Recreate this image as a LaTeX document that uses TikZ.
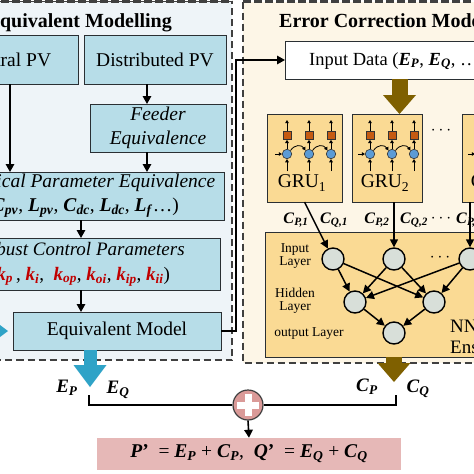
\documentclass[tikz,border=0pt]{standalone}
\usepackage{fontspec}
\setmainfont{Liberation Serif}
\usetikzlibrary{arrows.meta}
\definecolor{kred}{HTML}{C00000}
\definecolor{lblue}{HTML}{B7DDE8}
\definecolor{lpanel}{HTML}{EEF4F8}
\definecolor{rpanel}{HTML}{FDF6E7}
\definecolor{gold}{HTML}{FADA94}
\definecolor{nngray}{HTML}{D8DFD9}
\definecolor{cyanc}{HTML}{2FA3C7}
\definecolor{brownc}{HTML}{7F6000}
\definecolor{plusc}{HTML}{DA9A98}
\definecolor{formc}{HTML}{E6B8B7}
\definecolor{gblue}{HTML}{5B9BD5}
\definecolor{gorange}{HTML}{C55A11}
\definecolor{boxline}{HTML}{2A2F33}
\newcommand{\fsz}[2]{\fontsize{#1pt}{#2pt}\selectfont}
\newcommand{\myBI}[1]{\textbf{\textit{#1}}}
\newcommand{\mySub}[2]{\myBI{#1}\textsubscript{\myBI{#2}}}
\newcommand{\myRed}[2]{\textcolor{kred}{\myBI{#1}\textsubscript{\myBI{#2}}}}
\newcommand{\grucell}[2]{%
  \foreach \i/\dx in {1/-22,2/0,3/22}{%
    \node[grucirc] (#2c\i) at ({#1+\dx},154) {};
    \node[grusq] (#2s\i) at ({#1+\dx},135.5) {};
    \draw[sarr] (#2c\i.north) -- (#2s\i.south);
    \draw[sarr] (#2s\i.north) -- ({#1+\dx},120);
    \draw[sarr] ({#1+\dx},171) -- (#2c\i.south);
  }
  \draw[sarr] ({#1-34},154) -- (#2c1.west);
  \draw[sarr] (#2c1.north east) .. controls +(4,-6) and +(-4,-6) .. (#2c2.north west);
  \draw[sarr] (#2c2.north east) .. controls +(4,-6) and +(-4,-6) .. (#2c3.north west);
}
\begin{document}
\begin{tikzpicture}[x=1pt,y=-1pt,
  panel/.style={draw=black!75, line width=1.2pt, dash pattern=on 7pt off 4pt},
  lbox/.style={draw=boxline, fill=lblue, line width=0.9pt, inner sep=0pt, outer sep=0pt, font=\fsz{19.5}{24}, align=center},
  wbox/.style={lbox, fill=white},
  gbox/.style={lbox, fill=gold},
  arr/.style={line width=1.6pt, -{Triangle[length=8pt,width=8.5pt]}},
  sarr/.style={line width=0.8pt, -{Triangle[length=3.2pt,width=3.6pt]}},
  nnarr/.style={line width=1.5pt, -{Triangle[length=8pt,width=8pt]}},
  grucirc/.style={circle, draw=black!80, fill=gblue, line width=0.6pt, minimum size=9.5pt, inner sep=0pt},
  grusq/.style={rectangle, draw=black!80, fill=gorange, line width=0.6pt, minimum size=8pt, inner sep=0pt},
  nncirc/.style={circle, draw=black, fill=nngray, line width=1.4pt, minimum size=22pt, inner sep=0pt},
  cyanarr/.style={draw=cyanc, line width=13pt, -{Triangle[length=22pt,width=33pt,line width=0pt]}},
  brownarr/.style={draw=brownc, line width=16pt, -{Triangle[length=19pt,width=33pt,line width=0pt]}},
  clab/.style={font=\fsz{16}{19}, inner sep=0pt},
  elab/.style={font=\fsz{19}{22}, inner sep=0pt},
  layer/.style={font=\fsz{13.5}{13.5}, align=center, inner sep=0pt},
  title/.style={font=\fsz{20}{24}\bfseries, inner sep=0pt}
]
\useasboundingbox (0,0) rectangle (474,474);
\clip (0,0) rectangle (474,474);
\fill[white] (0,0) rectangle (474,474);
% panels
\draw[panel, fill=lpanel] (-10,1.5) rectangle (232,360);
\draw[panel, fill=rpanel] (243,1.5) rectangle (490,363);
\draw[panel, line width=3pt, dash pattern=on 8pt off 3pt] (-10,1.5) -- (232,1.5);
\draw[panel, line width=3pt, dash pattern=on 8pt off 3pt] (243,1.5) -- (490,1.5);
\node[title, anchor=base east] (ltitle) at (172,27) {Equivalent Modelling};
\node[title, anchor=base west] (rtitle) at (279,27) {Error Correction Model};
% left column
\node[lbox, minimum width=141pt, minimum height=49pt] (central) at (7.5,59.5) {Central PV};
\node[lbox, minimum width=142pt, minimum height=49pt] (distr) at (155,59.5) {Distributed PV};
\node[lbox, minimum width=136pt, minimum height=48pt, font=\fsz{19.5}{24}\itshape] (feeder) at (158,128) {Feeder\\Equivalence};
\node[lbox, minimum width=284pt, minimum height=48pt] (elec) at (82,196) {\textit{Electrical Parameter Equivalence}\\(\mySub{C}{pv}, \mySub{L}{pv}, \mySub{C}{dc}, \mySub{L}{dc}, \mySub{L}{f}\ldots)};
\node[lbox, minimum width=280pt, minimum height=52pt, font=\fsz{19}{25}] (robust) at (80,264) {\textit{Robust Control Parameters}\\(\myRed{k}{p}\,, \myRed{k}{i},\ \ \myRed{k}{op}, \myRed{k}{oi}, \myRed{k}{ip}, \myRed{k}{ii})};
\node[lbox, minimum width=208pt, minimum height=38pt] (eqm) at (117,331) {Equivalent Model};
\coordinate (ax) at (147,0);
\coordinate (bx) at (10,0);
\coordinate (cx) at (81,0);
\draw[arr] (ax |- distr.south) -- (ax |- feeder.north);
\draw[arr] (ax |- feeder.south) -- (ax |- elec.north);
\draw[arr] (bx |- central.south) -- (bx |- elec.north);
\draw[arr] (cx |- elec.south) -- (cx |- robust.north);
\draw[arr] (cx |- robust.south) -- (cx |- eqm.north);
% right side
\node[wbox, minimum width=215pt, minimum height=38pt] (input) at (392.5,60) {};
\node[anchor=west, font=\fsz{18.5}{22}, inner sep=0pt] (intext) at (309,61) {Input Data (\mySub{E}{P}, \mySub{E}{Q}, \ldots)};
\coordinate (turn) at (236,0);
\draw[arr] (eqm.east) -- (eqm.east -| turn) |- (input.west);
\node[gbox, minimum width=75pt, minimum height=88pt] (gru1) at (304.5,158) {};
\node[gbox, minimum width=70pt, minimum height=88pt] (gru2) at (387,158) {};
\node[gbox, minimum width=70pt, minimum height=88pt] (gru3) at (497,158) {};
\coordinate (bax) at (399.5,0);
\draw[brownarr] (input.south -| bax) -- (bax |- gru2.north);
\grucell{309}{ga}
\grucell{392}{gb}
\grucell{502}{gc}
\node[font=\fsz{19.5}{22}, inner sep=0pt] (gl1) at (302,183) {GRU\textsubscript{1}};
\node[font=\fsz{19.5}{22}, inner sep=0pt] (gl2) at (385,183) {GRU\textsubscript{2}};
\node[font=\fsz{19.5}{22}, inner sep=0pt] (gl3) at (495,183) {GRU\textsubscript{\textit{n}}};
\node[font=\fsz{18}{20}\bfseries, inner sep=0pt] (gdots) at (441,131) {$\cdots$};
% NN box
\node[gbox, minimum width=225pt, minimum height=125pt] (nn) at (377.5,294.5) {};
\node[nncirc] (in1) at (333,259) {};
\node[nncirc] (in2) at (394,259) {};
\node[nncirc] (in3) at (470,259) {};
\node[nncirc] (h1) at (355,302) {};
\node[nncirc] (h2) at (434,302) {};
\node[nncirc] (out) at (394,333) {};
\node[font=\fsz{18}{20}\bfseries, inner sep=0pt] (ndots) at (440,258) {$\cdots$};
\foreach \a in {in1,in2,in3}{\foreach \b in {h1,h2}{\draw[nnarr] (\a) -- (\b);}}
\draw[nnarr] (h1) -- (out);
\draw[nnarr] (h2) -- (out);
\draw[nnarr] (gru1.south) -- (in1);
\draw[nnarr] (in2 |- gru2.south) -- (in2);
\draw[nnarr] (in3 |- gru3.south) -- (in3);
\node[clab] (cp1) at (296,220) {\mySub{C}{P,1}};
\node[clab] (cq1) at (334,220) {\mySub{C}{Q,1}};
\node[clab] (cp2) at (377,220) {\mySub{C}{P,2}};
\node[clab] (cq2) at (414,220) {\mySub{C}{Q,2}};
\node[font=\fsz{16}{18}\bfseries, inner sep=0pt] (cdots) at (441,219) {$\cdots$};
\node[clab, anchor=west] (cpn) at (456,220) {\mySub{C}{P,n}};
\node[layer] (linput) at (295,256) {Input\\Layer};
\node[layer] (lhidden) at (295,301) {Hidden\\Layer};
\node[layer] (loutput) at (309,334) {output Layer};
\node[font=\fsz{19}{20.5}, align=left, anchor=north west, inner sep=0pt] (nnens) at (450,320) {NN\\Ensemble};
% bottom
\coordinate (ecyan) at (90,387);
\coordinate (lcs) at (-25,331);
\coordinate (lce) at (8,331);
\draw[cyanarr] (eqm.south -| ecyan) -- (ecyan);
\draw[cyanarr] (lcs) -- (lce);
\coordinate (ebrown) at (394,382);
\draw[brownarr] (out |- nn.south) -- (ebrown);
\node[elab] (ep) at (67,388) {\mySub{E}{P}};
\node[elab] (eq) at (118,390) {\mySub{E}{Q}};
\node[elab] (cp) at (367,387) {\mySub{C}{P}};
\node[elab] (cq) at (418,389) {\mySub{C}{Q}};
\node[circle, draw=black!75, fill=plusc, line width=1.2pt, minimum size=30pt, inner sep=0pt] (plus) at (248,405) {};
\coordinate (bl) at (89,395);
\coordinate (br) at (396,395);
\draw[line width=1.5pt] (bl) |- (plus.west);
\draw[line width=1.5pt] (br) |- (plus.east);
\fill[white] ([xshift=-11pt,yshift=-3.5pt]plus.center) rectangle ([xshift=11pt,yshift=3.5pt]plus.center);
\fill[white] ([xshift=-3.5pt,yshift=-11pt]plus.center) rectangle ([xshift=3.5pt,yshift=11pt]plus.center);
\node[fill=formc, minimum width=304pt, minimum height=32pt, inner sep=0pt, font=\fsz{19.5}{22}] (formula) at (249,454) {\myBI{P}\textbf{’}\ \ = \mySub{E}{P} + \mySub{C}{P},\ \ \myBI{Q}\textbf{’}\ \ = \mySub{E}{Q} + \mySub{C}{Q}};
\draw[arr] (plus.south) -- (formula.north);
\end{tikzpicture}
\end{document}
